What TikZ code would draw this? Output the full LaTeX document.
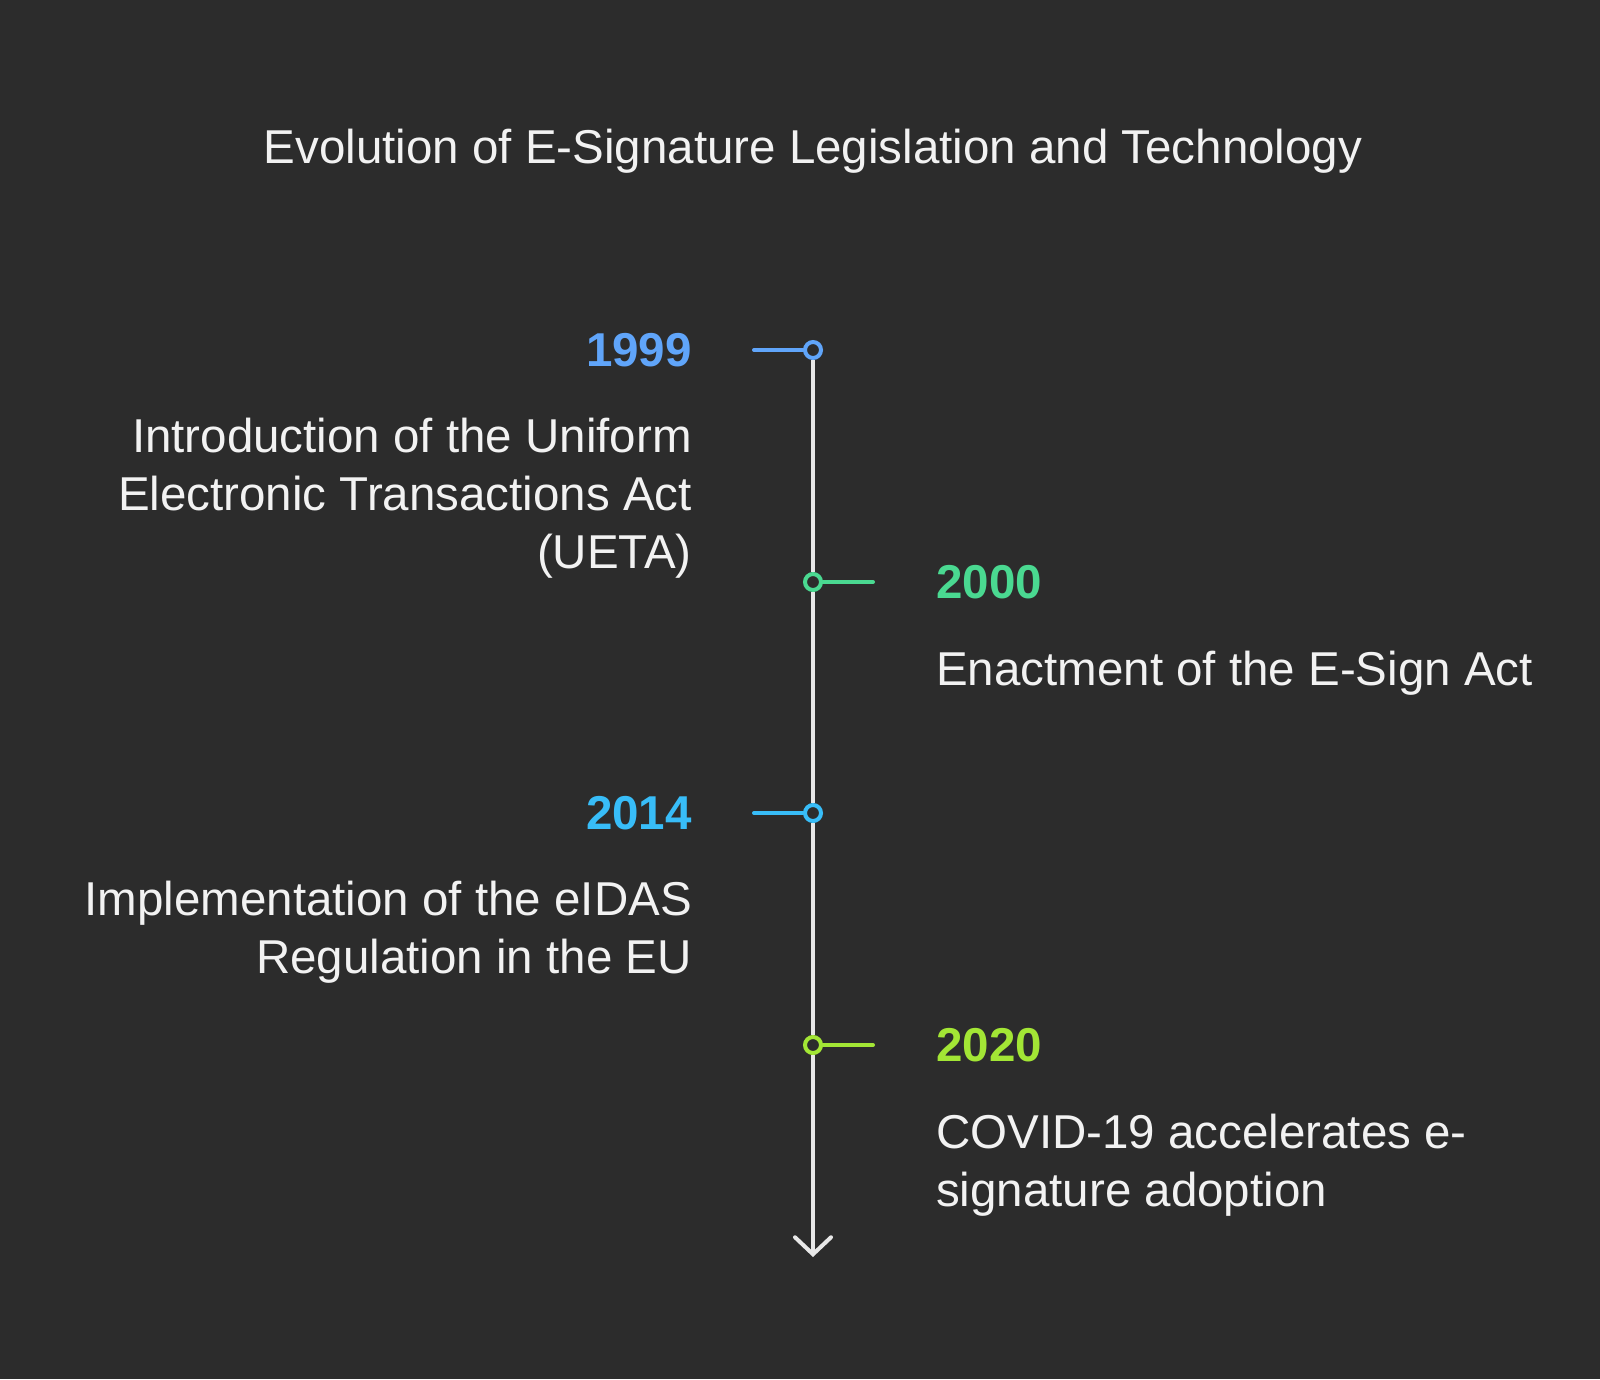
\documentclass[tikz,border=0pt]{standalone}
\usepackage{fontspec}
\setmainfont{Liberation Sans}
\usetikzlibrary{arrows.meta}
\definecolor{bg}{HTML}{2C2C2C}
\definecolor{txt}{HTML}{F2F2F2}
\definecolor{spinec}{HTML}{E8E8E8}
\definecolor{cA}{HTML}{60A5FA}
\definecolor{cB}{HTML}{4AD991}
\definecolor{cC}{HTML}{38BDF8}
\definecolor{cD}{HTML}{A3E635}
\tikzset{
  base font/.style={font=\fontsize{47.5}{58}\selectfont, text=txt, inner sep=0pt},
  titletext/.style={base font, anchor=base},
  yearR/.style={font=\fontsize{47.5}{58}\selectfont\bfseries, inner sep=0pt, anchor=base east},
  yearL/.style={font=\fontsize{47.5}{58}\selectfont\bfseries, inner sep=0pt, anchor=base west},
  bodyR/.style={base font, align=right, anchor=base east},
  bodyL/.style={base font, align=left, anchor=base west},
  dot/.style={circle, draw=#1, line width=4pt, fill=bg, minimum size=16pt, inner sep=0pt},
  tickline/.style={draw=#1, line width=4pt, line cap=round},
  spine/.style={draw=spinec, line width=4pt},
}
\begin{document}
\begin{tikzpicture}[x=1pt,y=-1pt]
\fill[bg] (0,0) rectangle (1600,1379);
\useasboundingbox (0,0) rectangle (1600,1379);

\node[titletext] (title) at (813,163) {Evolution of E-Signature Legislation and Technology};

% dots
\node[dot=cA] (d1999) at (813,350) {};
\node[dot=cB] (d2000) at (813,582) {};
\node[dot=cC] (d2014) at (813,813) {};
\node[dot=cD] (d2020) at (813,1045) {};
\coordinate (end) at (813,1257);

% spine
\draw[spine] (d1999.south) -- (d2000.north);
\draw[spine] (d2000.south) -- (d2014.north);
\draw[spine] (d2014.south) -- (d2020.north);
\draw[spine, -{Straight Barb[length=17pt,width=36pt,line cap=round]}] (d2020.south) -- (end);

% ticks
\coordinate (t1999) at (754,350);
\coordinate (t2000) at (873,582);
\coordinate (t2014) at (754,813);
\coordinate (t2020) at (873,1045);
\draw[tickline=cA] (t1999) -- (d1999.west);
\draw[tickline=cB] (d2000.east) -- (t2000);
\draw[tickline=cC] (t2014) -- (d2014.west);
\draw[tickline=cD] (d2020.east) -- (t2020);

% years
\node[yearR, text=cA] (y1999) at (692,366) {1999};
\node[yearL, text=cB] (y2000) at (936,598) {2000};
\node[yearR, text=cC] (y2014) at (692,829) {2014};
\node[yearL, text=cD] (y2020) at (936,1061) {2020};

% bodies (base anchor = baseline of the last line)
\node[bodyR] (b1999) at (692,568) {Introduction of the Uniform\\Electronic Transactions Act\\(UETA)};
\node[bodyL] (b2000) at (936,685) {Enactment of the E-Sign Act};
\node[bodyR] (b2014) at (692,973) {Implementation of the eIDAS\\Regulation in the EU};
\node[bodyL] (b2020) at (936,1206) {COVID-19 accelerates e-\\signature adoption};
\end{tikzpicture}
\end{document}
